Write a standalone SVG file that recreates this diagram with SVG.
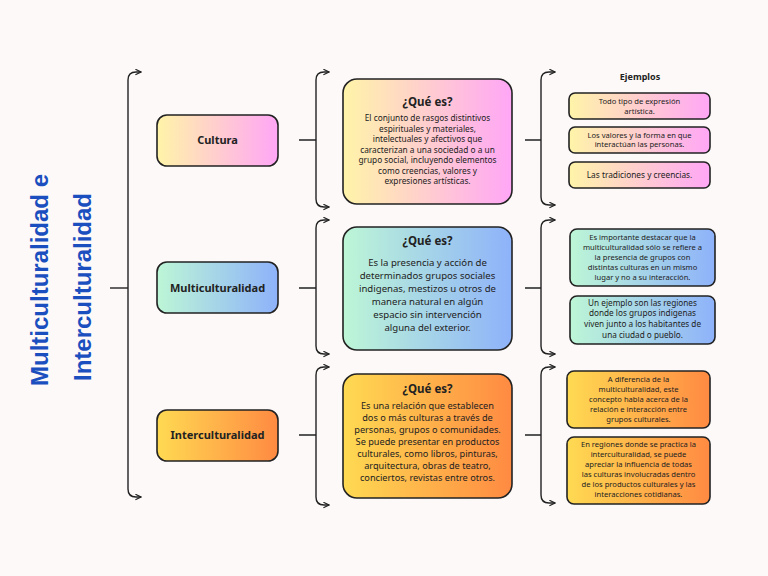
<svg xmlns="http://www.w3.org/2000/svg" width="768" height="576" viewBox="0 0 768 576">
<defs>
<linearGradient id="gp" x1="0" x2="1" y1="0" y2="0"><stop offset="0" stop-color="#fff4a8"/><stop offset="1" stop-color="#ffa6f6"/></linearGradient>
<linearGradient id="gb" x1="0" x2="1" y1="0" y2="0"><stop offset="0" stop-color="#bdf6d6"/><stop offset="1" stop-color="#8eb2fa"/></linearGradient>
<linearGradient id="go" x1="0" x2="1" y1="0" y2="0"><stop offset="0" stop-color="#ffda52"/><stop offset="1" stop-color="#ff8a42"/></linearGradient>
<marker id="ar" viewBox="0 0 10 10" refX="9" refY="5" markerWidth="5" markerHeight="5" orient="auto"><path d="M1,1 L9,5 L1,9" fill="none" stroke="#222" stroke-width="1.6"/></marker>
</defs>
<style>
.n{stroke:#222;stroke-width:1.6}
.c{fill:none;stroke:#222;stroke-width:1.4}
text{font-family:"Noto Sans","Liberation Sans",sans-serif;fill:#222;text-anchor:middle}
.h{font-weight:bold;font-size:11px}
.q{font-weight:bold;font-size:11.5px}
.s{font-size:7.6px}
</style>
<rect width="768" height="576" fill="#fdf9f8"/>
<g id="title"><text transform="translate(48,280) rotate(-90)" style="font-family:'Liberation Sans',sans-serif;font-weight:bold;font-size:24px;fill:#1b4fbf">Multiculturalidad e</text>
<text transform="translate(91,287) rotate(-90)" style="font-family:'Liberation Sans',sans-serif;font-weight:bold;font-size:24px;fill:#1b4fbf">Interculturalidad</text></g>
<g id="connectors">
<path class="c" d="M110,288 H128"/>
<path class="c" marker-end="url(#ar)" d="M128,288 V80 Q128,72 136,72 H141"/>
<path class="c" marker-end="url(#ar)" d="M128,288 V489 Q128,497 136,497 H141"/>
<path class="c" d="M299,140 H316 M299,288 H316 M299,435 H316"/>
<path class="c" marker-end="url(#ar)" d="M316,140 V80 Q316,72 324,72 H329"/>
<path class="c" marker-end="url(#ar)" d="M316,140 V199 Q316,207 324,207 H329"/>
<path class="c" marker-end="url(#ar)" d="M316,288 V228 Q316,220 324,220 H329"/>
<path class="c" marker-end="url(#ar)" d="M316,288 V346 Q316,354 324,354 H329"/>
<path class="c" marker-end="url(#ar)" d="M316,435 V375 Q316,367 324,367 H329"/>
<path class="c" marker-end="url(#ar)" d="M316,435 V497 Q316,505 324,505 H329"/>
<path class="c" d="M525,140 H541 M525,288 H541 M525,435 H541"/>
<path class="c" marker-end="url(#ar)" d="M541,140 V80 Q541,72 549,72 H555"/>
<path class="c" marker-end="url(#ar)" d="M541,140 V197 Q541,205 549,205 H555"/>
<path class="c" marker-end="url(#ar)" d="M541,288 V228 Q541,220 549,220 H555"/>
<path class="c" marker-end="url(#ar)" d="M541,288 V346 Q541,354 549,354 H555"/>
<path class="c" marker-end="url(#ar)" d="M541,435 V375 Q541,367 549,367 H555"/>
<path class="c" marker-end="url(#ar)" d="M541,435 V495 Q541,503 549,503 H555"/>
</g>
<g id="cultura"><rect class="n" x="157" y="115" width="121" height="51" rx="10" fill="url(#gp)"/><text class="h" x="217.5" y="144">Cultura</text></g>
<g id="multi"><rect class="n" x="157" y="262" width="121" height="51" rx="10" fill="url(#gb)"/><text class="h" x="217.5" y="292">Multiculturalidad</text></g>
<g id="inter"><rect class="n" x="157" y="410" width="121" height="51" rx="10" fill="url(#go)"/><text class="h" x="217.5" y="439">Interculturalidad</text></g>

<g id="que1"><rect class="n" x="343" y="79" width="169" height="125" rx="14" fill="url(#gp)"/>
<text class="q" x="427.5" y="106">¿Qué es?</text>
<text style="font-size:8.3px" x="427.5"><tspan x="427.5" y="121">El conjunto de rasgos distintivos</tspan><tspan x="427.5" y="131.5">espirituales y materiales,</tspan><tspan x="427.5" y="142">intelectuales y afectivos que</tspan><tspan x="427.5" y="152.5">caracterizan a una sociedad o a un</tspan><tspan x="427.5" y="163">grupo social, incluyendo elementos</tspan><tspan x="427.5" y="173.5">como creencias, valores y</tspan><tspan x="427.5" y="184">expresiones artísticas.</tspan></text></g>
<g id="que2"><rect class="n" x="343" y="227" width="169" height="123" rx="14" fill="url(#gb)"/>
<text class="q" x="427.5" y="245">¿Qué es?</text>
<text style="font-size:9.6px" x="427.5"><tspan x="427.5" y="266">Es la presencia y acción de</tspan><tspan x="427.5" y="279">determinados grupos sociales</tspan><tspan x="427.5" y="292">indigenas, mestizos u otros de</tspan><tspan x="427.5" y="305">manera natural en algún</tspan><tspan x="427.5" y="318">espacio sin intervención</tspan><tspan x="427.5" y="331">alguna del exterior.</tspan></text></g>
<g id="que3"><rect class="n" x="343" y="374" width="169" height="124" rx="14" fill="url(#go)"/>
<text class="q" x="427.5" y="393">¿Qué es?</text>
<text style="font-size:9.2px" x="427.5"><tspan x="427.5" y="409">Es una relación que establecen</tspan><tspan x="427.5" y="421">dos o más culturas a través de</tspan><tspan x="427.5" y="433">personas, grupos o comunidades.</tspan><tspan x="427.5" y="445">Se puede presentar en productos</tspan><tspan x="427.5" y="457">culturales, como libros, pinturas,</tspan><tspan x="427.5" y="469">arquitectura, obras de teatro,</tspan><tspan x="427.5" y="481">conciertos, revistas entre otros.</tspan></text></g>

<g id="ejemplos"><text x="640" y="80" style="font-weight:bold;font-size:9px">Ejemplos</text></g>
<g id="e1"><rect class="n" x="569" y="93" width="141" height="26" rx="6" fill="url(#gp)"/><text class="s" x="639.5"><tspan x="639.5" y="104">Todo tipo de expresión</tspan><tspan x="639.5" y="114">artística.</tspan></text></g>
<g id="e2"><rect class="n" x="569" y="127" width="141" height="26" rx="6" fill="url(#gp)"/><text class="s" x="639.5"><tspan x="639.5" y="138">Los valores y la forma en que</tspan><tspan x="639.5" y="147">interactúan las personas.</tspan></text></g>
<g id="e3"><rect class="n" x="569" y="162" width="141" height="26" rx="6" fill="url(#gp)"/><text x="639.5" y="178" style="font-size:8.3px">Las tradiciones y creencias.</text></g>
<g id="m1"><rect class="n" x="570" y="229" width="145" height="57" rx="7" fill="url(#gb)"/><text class="s" x="642.5"><tspan x="642.5" y="240">Es importante destacar que la</tspan><tspan x="642.5" y="250">multiculturalidad sólo se refiere a</tspan><tspan x="642.5" y="260">la presencia de grupos con</tspan><tspan x="642.5" y="270">distintas culturas en un mismo</tspan><tspan x="642.5" y="280">lugar y no a su interacción.</tspan></text></g>
<g id="m2"><rect class="n" x="570" y="296" width="145" height="48" rx="7" fill="url(#gb)"/><text class="s" style="font-size:8.2px" x="642.5"><tspan x="642.5" y="306">Un ejemplo son las regiones</tspan><tspan x="642.5" y="316">donde los grupos indigenas</tspan><tspan x="642.5" y="327">viven junto a los habitantes de</tspan><tspan x="642.5" y="338">una ciudad o pueblo.</tspan></text></g>
<g id="i1"><rect class="n" x="567" y="371" width="143" height="57" rx="7" fill="url(#go)"/><text class="s" x="638.5"><tspan x="638.5" y="382">A diferencia de la</tspan><tspan x="638.5" y="392">multiculturalidad, este</tspan><tspan x="638.5" y="402">concepto habla acerca de la</tspan><tspan x="638.5" y="412">relación e interacción entre</tspan><tspan x="638.5" y="422">grupos culturales.</tspan></text></g>
<g id="i2"><rect class="n" x="567" y="437" width="143" height="67" rx="7" fill="url(#go)"/><text class="s" x="638.5"><tspan x="638.5" y="447">En regiones donde se practica la</tspan><tspan x="638.5" y="457">interculturalidad, se puede</tspan><tspan x="638.5" y="467">apreciar la influencia de todas</tspan><tspan x="638.5" y="477">las culturas involucradas dentro</tspan><tspan x="638.5" y="487">de los productos culturales y las</tspan><tspan x="638.5" y="497">interacciones cotidianas.</tspan></text></g>
</svg>
